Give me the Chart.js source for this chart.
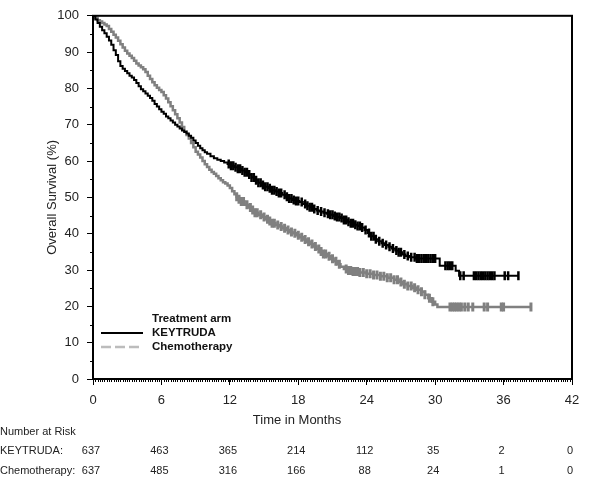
<!DOCTYPE html>
<html>
<head>
<meta charset="utf-8">
<script src="https://cdn.jsdelivr.net/npm/chart.js@4"></script>
<style>
  html, body { margin: 0; padding: 0; background: #fff; }
  #wrap { width: 596px; height: 481px; position: relative; }
</style>
</head>
<body>
<div id="wrap"><canvas id="kmChart" width="596" height="481"></canvas></div>
<script>
// Kaplan-Meier steps (months, % surviving)
const keyTimes = [0, 0.2, 0.4, 0.6, 0.8, 1.0, 1.2, 1.4, 1.6, 1.8, 2.0, 2.2, 2.4, 2.6, 2.8, 3.0, 3.2, 3.4, 3.6, 3.8, 4.0, 4.2, 4.4, 4.6, 4.8, 5.0, 5.2, 5.4, 5.6, 5.8, 6.0, 6.2, 6.4, 6.6, 6.8, 7.0, 7.2, 7.4, 7.6, 7.8, 8.0, 8.2, 8.4, 8.6, 8.8, 9.0, 9.2, 9.4, 9.6, 9.8, 10.0, 10.3, 10.6, 10.9, 11.2, 11.5, 11.8, 12.1, 12.4, 12.7, 13.0, 13.3, 13.6, 13.9, 14.2, 14.5, 14.8, 15.1, 15.4, 15.7, 16.0, 16.3, 16.6, 16.9, 17.2, 17.5, 17.8, 18.1, 18.4, 18.7, 19.0, 19.3, 19.6, 19.9, 20.2, 20.5, 20.8, 21.1, 21.4, 21.7, 22.0, 22.3, 22.6, 22.9, 23.2, 23.5, 23.8, 24.1, 24.4, 24.7, 25.0, 25.3, 25.6, 25.9, 26.2, 26.5, 26.8, 27.1, 27.4, 27.8, 28.3, 30.4, 31.8, 32.1, 37.3];
const keySurv  = [100, 99, 98, 97, 96, 95.2, 94.2, 93.2, 92, 90.5, 89.2, 87.5, 86.2, 85.4, 84.8, 84.2, 83.5, 83, 82.3, 81.5, 80.6, 79.8, 79.2, 78.6, 78, 77.4, 76.6, 75.7, 75, 74.3, 73.6, 73, 72.3, 71.8, 71.2, 70.6, 70, 69.5, 69, 68.4, 68, 67.6, 67, 66.4, 65.7, 65, 64.2, 63.5, 63, 62.4, 62, 61.3, 60.8, 60.4, 60, 59.6, 59.2, 58.7, 58.3, 57.9, 57.4, 56.9, 56.3, 55.5, 54.7, 54, 53.4, 52.9, 52.5, 52, 51.6, 51.2, 50.7, 50.2, 49.7, 49.3, 49, 48.7, 48.2, 47.7, 47.3, 46.8, 46.4, 46.1, 45.8, 45.5, 45.2, 44.9, 44.6, 44.3, 43.8, 43.3, 42.9, 42.5, 42.1, 41.7, 41, 40.2, 39.3, 38.5, 37.9, 37.4, 36.9, 36.4, 35.9, 35.4, 34.9, 34.3, 33.9, 33.5, 33.2, 31.2, 29.8, 28.4, 28.4];

const chemoTimes = [0, 0.2, 0.4, 0.6, 0.8, 1.0, 1.2, 1.4, 1.6, 1.8, 2.0, 2.2, 2.4, 2.6, 2.8, 3.0, 3.2, 3.4, 3.6, 3.8, 4.0, 4.2, 4.4, 4.6, 4.8, 5.0, 5.2, 5.4, 5.6, 5.8, 6.0, 6.2, 6.4, 6.6, 6.8, 7.0, 7.2, 7.4, 7.6, 7.8, 8.0, 8.2, 8.4, 8.6, 8.8, 9.0, 9.2, 9.4, 9.6, 9.8, 10.0, 10.2, 10.4, 10.6, 10.8, 11.0, 11.2, 11.4, 11.6, 11.8, 12.0, 12.2, 12.4, 12.6, 12.8, 13.0, 13.3, 13.6, 13.9, 14.2, 14.5, 14.8, 15.1, 15.4, 15.7, 16.0, 16.3, 16.6, 16.9, 17.2, 17.5, 17.8, 18.1, 18.4, 18.7, 19.0, 19.3, 19.6, 19.9, 20.2, 20.5, 20.8, 21.1, 21.4, 21.7, 22.0, 22.3, 22.8, 23.4, 24.0, 24.6, 25.2, 25.8, 26.4, 26.8, 27.2, 27.6, 28.0, 28.4, 28.8, 29.1, 29.4, 29.7, 30.0, 30.2, 38.4];
const chemoSurv  = [100, 99.4, 98.8, 98.4, 98, 97.6, 97.2, 96.4, 95.6, 94.8, 94, 93.1, 92.2, 91.3, 90.4, 89.6, 89, 88.4, 87.6, 86.9, 86.3, 85.8, 85.3, 84.5, 83.5, 82.6, 81.7, 80.9, 80.2, 79.6, 79, 78.1, 77.2, 76.2, 75.1, 74, 72.9, 71.8, 70.6, 69.4, 68.2, 67.2, 66.2, 65, 63.8, 62.6, 61.8, 61, 60, 59.1, 58.4, 57.6, 57, 56.5, 55.9, 55.3, 54.7, 54.2, 53.8, 53.3, 52.6, 51.7, 50.9, 50.2, 49.5, 48.9, 48, 47.2, 46.5, 45.8, 45.2, 44.6, 44, 43.5, 42.9, 42.4, 42, 41.5, 41, 40.5, 40.1, 39.6, 39, 38.4, 37.8, 37.2, 36.5, 35.8, 35.1, 34.4, 33.8, 33.1, 32.4, 31.6, 30.9, 30.3, 29.9, 29.6, 29.3, 29, 28.6, 28.3, 27.9, 27.3, 26.7, 26.1, 25.6, 25.1, 24.6, 24, 23.2, 22.2, 21.3, 20.5, 19.8, 19.8];

// censored observations (months)
const keyCensor = [11.9, 12.1, 12.3, 12.5, 12.7, 12.9, 13.1, 13.3, 13.5, 13.7, 13.9, 14.1, 14.3, 14.5, 14.7, 14.9, 15.1, 15.3, 15.5, 15.7, 15.9, 16.1, 16.3, 16.5, 16.8, 17.0, 17.2, 17.4, 17.6, 17.8, 18.0, 18.3, 18.6, 18.8, 19.0, 19.2, 19.4, 19.7, 20.0, 20.3, 20.6, 20.8, 21.0, 21.2, 21.4, 21.6, 21.8, 22.0, 22.2, 22.4, 22.6, 22.8, 23.0, 23.2, 23.4, 23.6, 23.9, 24.2, 24.4, 24.6, 24.8, 25.1, 25.4, 25.7, 26.0, 26.3, 26.6, 26.8, 27.0, 27.3, 27.6, 27.9, 28.2, 28.4, 28.6, 28.8, 29.0, 29.2, 29.4, 29.6, 29.8, 30.0, 30.9, 31.1, 31.3, 31.5, 32.2, 32.5, 33.4, 33.6, 33.8, 34.0, 34.2, 34.4, 34.6, 34.8, 35.0, 35.2, 36.1, 36.4, 37.3];
const chemoCensor = [12.6, 12.8, 13.0, 13.2, 13.5, 13.8, 14.0, 14.2, 14.4, 14.7, 15.0, 15.3, 15.5, 15.7, 15.9, 16.2, 16.5, 16.8, 17.1, 17.4, 17.7, 18.0, 18.3, 18.6, 18.9, 19.2, 19.5, 19.8, 20.0, 20.2, 20.4, 20.7, 21.0, 21.3, 21.6, 22.2, 22.4, 22.6, 22.8, 23.0, 23.2, 23.4, 23.7, 24.0, 24.3, 24.6, 24.9, 25.2, 25.5, 25.8, 26.1, 26.4, 26.7, 27.0, 27.3, 27.6, 27.9, 28.2, 28.5, 28.8, 29.1, 29.5, 29.8, 31.3, 31.5, 31.7, 31.9, 32.1, 32.3, 32.6, 32.9, 33.3, 34.3, 34.6, 35.8, 36.0, 38.4];

// number at risk table
const riskMonths = [0, 6, 12, 18, 24, 30, 36, 42];
const keyAtRisk = [637, 463, 365, 214, 112, 35, 2, 0];
const chemoAtRisk = [637, 485, 316, 166, 88, 24, 1, 0];

const FONT = "'Liberation Sans', Arial, sans-serif";
const BLACK = "#000000";
const GREY = "#808080";

function toPoints(times, surv) {
  return times.map((t, i) => ({ x: t, y: surv[i] }));
}

// survival value of a step curve at time t
function survAt(times, surv, t) {
  let v = surv[0];
  for (let i = 0; i < times.length; i++) {
    if (times[i] <= t) v = surv[i];
  }
  return v;
}

function censorPoints(censor, times, surv) {
  return censor.map(t => ({ x: t, y: survAt(times, surv, t) }));
}

const extras = {
  id: "extras",
  afterDraw(chart) {
    const { ctx, chartArea: a, scales } = chart;
    const xs = scales.x, ys = scales.y;
    ctx.save();

    // box around plot
    ctx.strokeStyle = "#000";
    ctx.lineWidth = 2;
    ctx.strokeRect(a.left, a.top, a.right - a.left, a.bottom - a.top);

    // minor ticks
    ctx.lineWidth = 1;
    ctx.beginPath();
    for (let m = 0; m <= 42.001; m += 0.2) {
      const px = Math.round(xs.getPixelForValue(m)) + 0.5;
      ctx.moveTo(px, a.bottom);
      ctx.lineTo(px, a.bottom + 3);
    }
    for (let v = 5; v < 100; v += 10) {
      const py = Math.round(ys.getPixelForValue(v)) + 0.5;
      ctx.moveTo(a.left, py);
      ctx.lineTo(a.left - 3, py);
    }
    ctx.stroke();

    // axis titles
    ctx.fillStyle = "#222";
    ctx.font = "13px " + FONT;
    ctx.textAlign = "center";
    ctx.textBaseline = "middle";
    ctx.fillText("Time in Months", 297, 420);
    ctx.save();
    ctx.translate(52, (a.top + a.bottom) / 2);
    ctx.rotate(-Math.PI / 2);
    ctx.fillText("Overall Survival (%)", 0, 0);
    ctx.restore();

    // legend inside the plot
    ctx.font = "bold 11.5px " + FONT;
    ctx.textAlign = "left";
    ctx.fillStyle = "#111";
    ctx.fillText("Treatment arm", 152, 319);
    ctx.fillText("KEYTRUDA", 152, 333);
    ctx.fillText("Chemotherapy", 152, 347);
    ctx.lineWidth = 2;
    ctx.strokeStyle = BLACK;
    ctx.beginPath();
    ctx.moveTo(101, 333); ctx.lineTo(143, 333);
    ctx.stroke();
    ctx.strokeStyle = "#bcbcbc";
    ctx.lineWidth = 2.5;
    ctx.setLineDash([10, 4]);
    ctx.beginPath();
    ctx.moveTo(101, 347); ctx.lineTo(143, 347);
    ctx.stroke();
    ctx.setLineDash([]);

    // number at risk
    ctx.font = "11px " + FONT;
    ctx.fillStyle = "#222";
    ctx.textAlign = "left";
    ctx.fillText("Number at Risk", 0, 432);
    ctx.fillText("KEYTRUDA:", 0, 451);
    ctx.fillText("Chemotherapy:", 0, 471);
    ctx.textAlign = "center";
    riskMonths.forEach((m, i) => {
      const px = xs.getPixelForValue(m) - 2;
      ctx.fillText(String(keyAtRisk[i]), px, 451);
      ctx.fillText(String(chemoAtRisk[i]), px, 471);
    });
    ctx.restore();
  }
};

const ctx = document.getElementById("kmChart").getContext("2d");
new Chart(ctx, {
  type: "line",
  data: {
    datasets: [
      { label: "KEYTRUDA", data: toPoints(keyTimes, keySurv), borderColor: BLACK, borderWidth: 2, stepped: true, pointRadius: 0, fill: false },
      { label: "Chemotherapy", data: toPoints(chemoTimes, chemoSurv), borderColor: GREY, borderWidth: 2.5, stepped: true, pointRadius: 0, fill: false },
      { label: "KEYTRUDA censored", data: censorPoints(keyCensor, keyTimes, keySurv), showLine: false, pointStyle: "line", rotation: 90, pointRadius: 4.5, pointBorderWidth: 2.5, borderColor: BLACK, pointBorderColor: BLACK },
      { label: "Chemotherapy censored", data: censorPoints(chemoCensor, chemoTimes, chemoSurv), showLine: false, pointStyle: "line", rotation: 90, pointRadius: 4.5, pointBorderWidth: 3, borderColor: GREY, pointBorderColor: GREY }
    ]
  },
  options: {
    responsive: false,
    animation: false,
    layout: { padding: { top: 5, right: 24, bottom: 0, left: 0 } },
    plugins: { legend: { display: false }, tooltip: { enabled: false } },
    scales: {
      x: {
        type: "linear", min: 0, max: 42,
        afterFit: s => { s.height = 102; },
        ticks: { stepSize: 6, padding: 8, color: "#222", font: { family: FONT, size: 13 } },
        grid: { drawOnChartArea: false, tickLength: 6, tickColor: "#000", tickWidth: 1 },
        border: { color: "#000", width: 2 }
      },
      y: {
        min: 0, max: 100,
        afterFit: s => { s.width = 93; },
        ticks: { stepSize: 10, padding: 8, color: "#222", font: { family: FONT, size: 13 } },
        grid: { drawOnChartArea: false, tickLength: 6, tickColor: "#000", tickWidth: 1 },
        border: { color: "#000", width: 2 }
      }
    }
  },
  plugins: [extras]
});
</script>
</body>
</html>
